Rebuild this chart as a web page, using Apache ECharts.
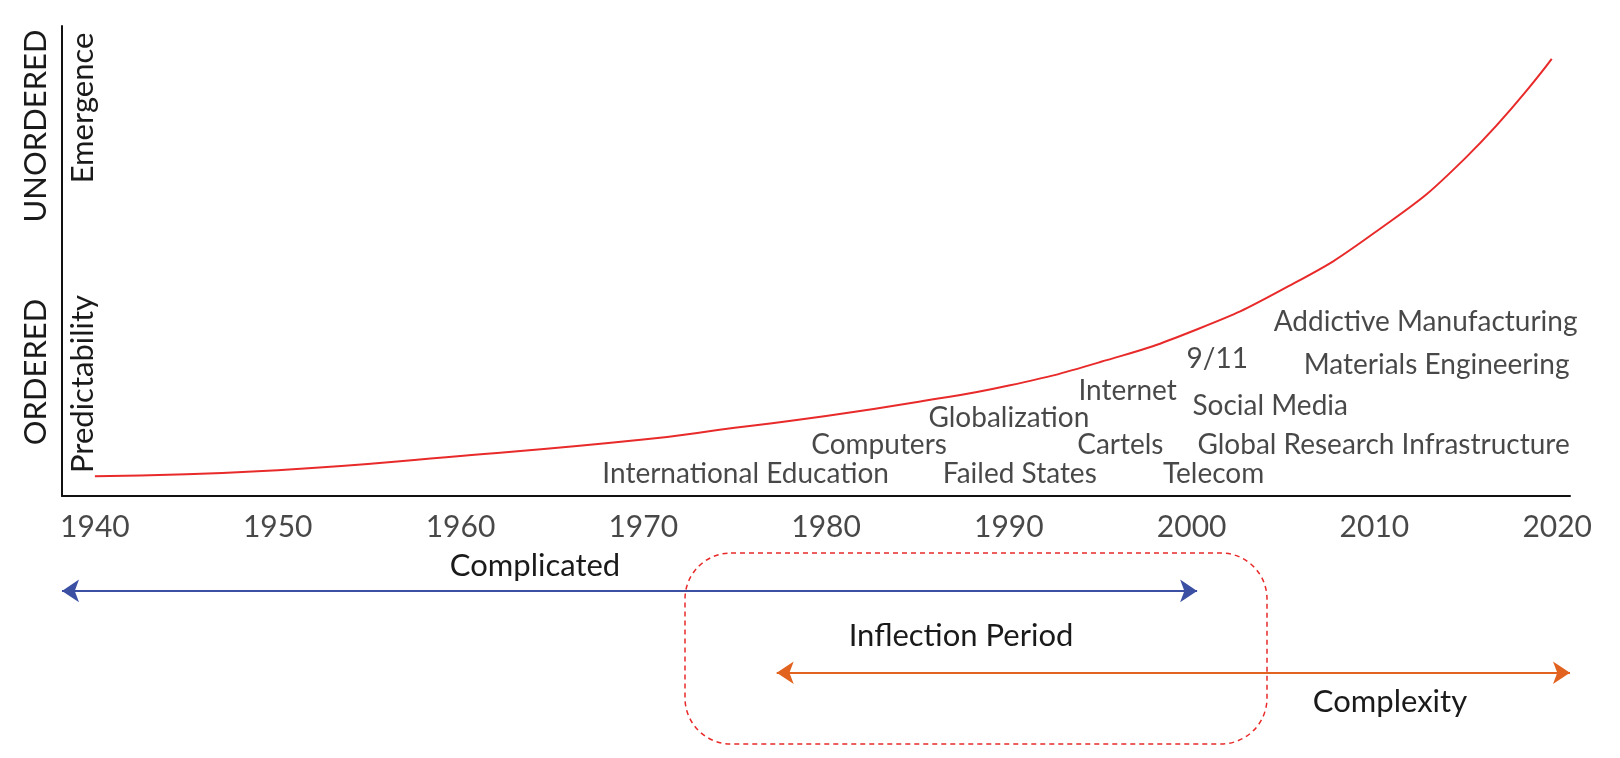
<!DOCTYPE html>
<html>
<head>
<meta charset="utf-8">
<script src="https://cdn.jsdelivr.net/npm/echarts@6/dist/echarts.min.js"></script>
<style>html,body{margin:0;padding:0;background:#fff}#main{width:1620px;height:758px}</style>
</head>
<body>
<div id="main"></div>
<script>
// curve of complexity over time
const curveYears = [1940, 1950, 1960, 1970, 1975, 1980, 1985, 1990, 1995, 2000, 2005, 2010, 2015, 2019.7];
const curveValues = [4.2, 5.5, 8.5, 12, 14.5, 17, 20, 23.5, 28.5, 35, 44, 56, 72, 93];

const tickYears = [1940, 1950, 1960, 1970, 1980, 1990, 2000, 2010, 2020];

const eventNames = ['International Education', 'Computers', 'Failed States', 'Globalization', 'Internet', 'Cartels',
  'Telecom', '9/11', 'Social Media', 'Global Research Infrastructure', 'Materials Engineering', 'Addictive Manufacturing'];
const eventYears = [1975.6, 1982.9, 1990.6, 1990, 1996.5, 1996.1, 2001.2, 2001.4, 2004.3, 2010.5, 2013.4, 2012.8];
const eventLevels = [4.6, 10.8, 4.6, 16.5, 22.4, 10.8, 4.6, 29.2, 19.1, 10.8, 27.9, 37.1];

const periodNames = ['Complicated', 'Complexity'];
const periodStart = [1938.2, 1977.3];
const periodEnd = [2000.3, 2020.7];
const periodLevels = [-20.2, -37.6];
const periodColors = ['#3b4fa3', '#e2621f'];

const chart = echarts.init(document.getElementById('main'));
const font = 'Lato, "Open Sans", sans-serif';
const ink = '#1a1a1a';

function label(x, y, text, rot) {
  return { type: 'text', x: x, y: y, rotation: rot || 0,
    style: { text: text, font: '31px ' + font, fill: ink, textAlign: 'center', textVerticalAlign: 'middle' } };
}

const option = {
  animation: false,
  grid: { left: 62, right: 50, top: 26, bottom: 262 },
  xAxis: {
    type: 'value', min: 1938.2, max: 2020.7,
    axisLine: { lineStyle: { color: '#111', width: 2 } },
    axisTick: { show: false }, axisLabel: { show: false }, splitLine: { show: false }
  },
  yAxis: {
    type: 'value', min: 0, max: 100,
    axisLine: { show: true, lineStyle: { color: '#111', width: 2 } },
    axisTick: { show: false }, axisLabel: { show: false }, splitLine: { show: false }
  },
  series: [
    {
      type: 'line', smooth: true, symbol: 'none',
      lineStyle: { color: '#e82a2a', width: 2 },
      data: curveYears.map((y, i) => [y, curveValues[i]])
    },
    {
      type: 'scatter', symbolSize: 0, clip: false,
      label: { show: true, position: 'inside', formatter: p => p.data[2], fontSize: 28, color: ink, fontFamily: font },
      data: eventYears.map((y, i) => [y, eventLevels[i], eventNames[i]])
    },
    {
      type: 'scatter', symbolSize: 0, clip: false,
      label: { show: true, position: 'inside', formatter: p => String(p.data[0]), fontSize: 30, color: ink, fontFamily: font },
      data: tickYears.map(y => [y, -6.6])
    },
    {
      type: 'lines', coordinateSystem: 'cartesian2d', clip: false,
      symbol: ['arrow', 'arrow'], symbolSize: 17,
      lineStyle: { width: 2, opacity: 1 },
      data: periodNames.map((n, i) => ({
        coords: [[periodStart[i], periodLevels[i]], [periodEnd[i], periodLevels[i]]],
        lineStyle: { color: periodColors[i] }
      }))
    }
  ],
  graphic: [
    { type: 'rect', shape: { x: 685, y: 553, width: 582, height: 191, r: 46 },
      style: { fill: 'none', stroke: '#e82a2a', lineWidth: 1.5, lineDash: [5, 4] } },
    label(535, 566, 'Complicated'),
    label(961, 636, 'Inflection Period'),
    label(1390, 702, 'Complexity'),
    label(36, 126, 'UNORDERED', Math.PI / 2),
    label(83, 108, 'Emergence', Math.PI / 2),
    label(36, 372, 'ORDERED', Math.PI / 2),
    label(83, 384, 'Predictability', Math.PI / 2)
  ]
};
chart.setOption(option);
</script>
</body>
</html>
